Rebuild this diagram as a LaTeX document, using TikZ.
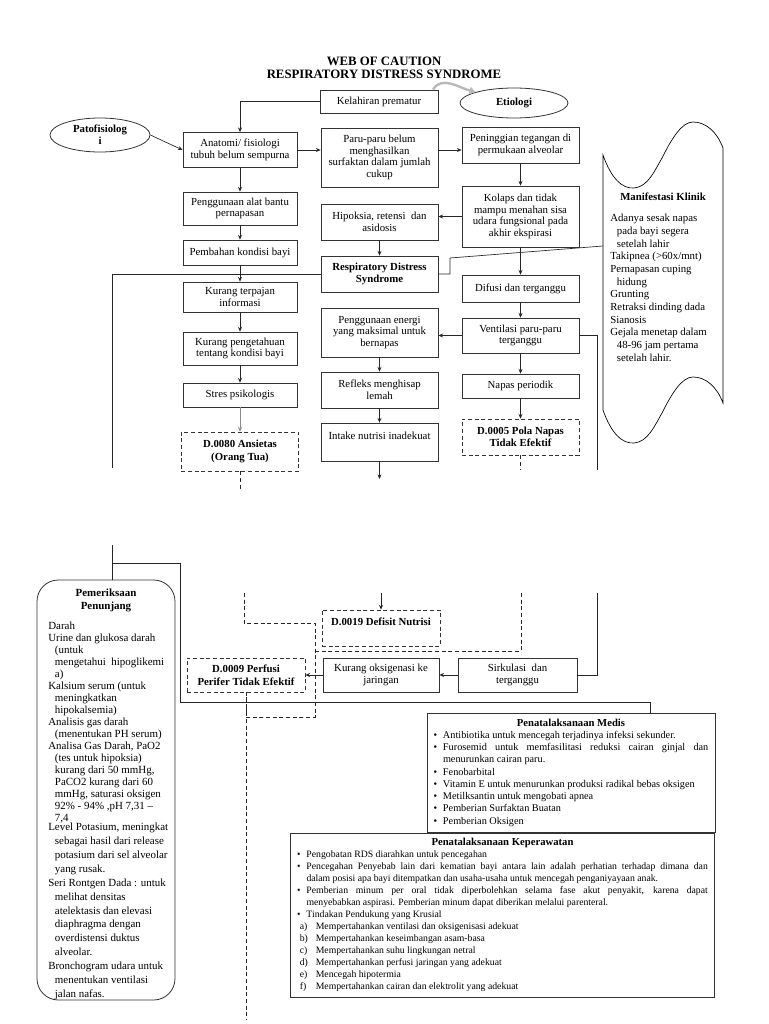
\documentclass[tikz,border=0pt]{standalone}
\usepackage{fontspec}
\setmainfont{Liberation Serif}
\usetikzlibrary{arrows.meta,shapes.geometric}
\newcommand{\bitm}{\par\hangindent=7pt\hangafter=1\noindent\makebox[7pt][l]{\textbullet}}
\newcommand{\subitm}[1]{\par\hangindent=16pt\hangafter=1\noindent\hspace*{2pt}\makebox[12pt][l]{#1}}
\begin{document}
\begin{tikzpicture}[x=0.75pt, y=-0.75pt,
pbox/.style={draw=black!80, line width=0.6pt, fill=white, align=center, inner sep=1pt, font=\fontsize{8.1}{8.8}\selectfont},
dpbox/.style={pbox, dash pattern=on 3pt off 2pt, font=\fontsize{8.1}{9.4}\selectfont\bfseries},
ebox/.style={draw=black!80, line width=0.6pt, fill=white, ellipse, inner sep=0pt, align=center, font=\fontsize{8.1}{9}\selectfont\bfseries},
lbox/.style={draw=black!80, line width=0.6pt, fill=white, align=justify, inner xsep=5pt, inner ysep=2pt},
ln/.style={draw=black!85, line width=0.5pt},
dln/.style={ln, dash pattern=on 3pt off 2pt},
arr/.style={-{Stealth[length=3.5pt,width=3pt]}}]
\useasboundingbox[fill=white] (0,0) rectangle (768,1024);
\node[font=\fontsize{9.6}{9.8}\selectfont\bfseries, align=center] (ttl) at (384,67.5) {WEB OF CAUTION\\RESPIRATORY DISTRESS SYNDROME};
\draw[fill=white, line width=0.5pt] (603,155) .. controls (611,178) and (622,189) .. (634,188) .. controls (648,187) and (655,170) .. (662,158) .. controls (672,138) and (682,122) .. (693,122) .. controls (706,122) and (717,132) .. (723,148) -- (723,403) .. controls (717,387) and (706,377) .. (693,377) .. controls (682,377) and (672,393) .. (662,413) .. controls (655,425) and (648,442) .. (634,443) .. controls (622,444) and (611,433) .. (603,410) -- cycle;
\node[font=\fontsize{8.1}{9.5}\selectfont\bfseries] (mkt) at (663,197) {Manifestasi Klinik};
\node[font=\fontsize{8.1}{9.5}\selectfont, align=left, anchor=north west, inner sep=0pt] (mkb) at (610,214) {Adanya sesak napas\\\hspace*{5pt}pada bayi segera\\\hspace*{5pt}setelah lahir\\Takipnea (>60x/mnt)\\Pernapasan cuping\\\hspace*{5pt}hidung\\Grunting\\Retraksi dinding dada\\Sianosis\\Gejala menetap dalam\\\hspace*{5pt}48-96 jam pertama\\\hspace*{5pt}setelah lahir.};
\coordinate (c3) at (603,246);
\node[pbox, minimum width=88.5pt, minimum height=17.25pt] (kel) at (379,101.5) {Kelahiran prematur};
\node[ebox, minimum width=81pt, minimum height=22.5pt] (eti) at (514,103) {Etiologi};
\draw[gray!55, line width=1.8pt, -{Triangle[length=4.5pt,width=5.5pt]}] ([xshift=-4pt]kel.north east) to[out=60, in=165] (eti.north west);
\node[ebox, minimum width=75pt, minimum height=25.5pt] (pato) at (100,135) {Patofisiolog\\i};
\node[pbox, minimum width=85.5pt, minimum height=26.25pt] (box1) at (240,150) {Anatomi/ fisiologi\\tubuh belum sempurna};
\draw[ln, arr] (kel.west) -| (box1.north);
\draw[ln, arr] (pato.east) -- (box1.west);
\node[pbox, minimum width=85.5pt, minimum height=24.75pt] (box2) at (240,208.5) {Penggunaan alat bantu\\pernapasan};
\draw[ln, arr] (box1.south) -- (box2.north);
\node[pbox, minimum width=85.5pt, minimum height=18.75pt] (box3) at (240,252.5) {Pembahan kondisi bayi};
\draw[ln, arr] (box2.south) -- (box3.north);
\node[pbox, minimum width=85.5pt, minimum height=22.5pt] (box4) at (240,297) {Kurang terpajan\\informasi};
\draw[ln, arr] (box3.south) -- (box4.north);
\node[pbox, minimum width=85.5pt, minimum height=24.75pt] (box5) at (240,348.5) {Kurang pengetahuan\\tentang kondisi bayi};
\draw[ln, arr] (box4.south) -- (box5.north);
\node[pbox, minimum width=85.5pt, minimum height=18pt] (box6) at (240,395) {Stres psikologis};
\draw[ln, arr] (box5.south) -- (box6.north);
\node[dpbox, minimum width=88pt, minimum height=29.25pt] (dx1) at (240,451.5) {D.0080 Ansietas\\(Orang Tua)};
\draw[ln, draw=black!45, arr] (box6.south) -- (dx1.north);
\coordinate (c5) at (240,490);
\draw[dln] (dx1.south) -- (c5);
\node[pbox, minimum width=87.75pt, minimum height=44.25pt] (box7) at (379.5,157.5) {Paru-paru belum\\menghasilkan\\surfaktan dalam jumlah\\cukup};
\draw[ln, arr] (box1.east) -- (box1.east -| box7.west);
\node[pbox, minimum width=87.75pt, minimum height=27pt] (box13) at (520.5,145) {Peninggian tegangan di\\permukaan alveolar};
\draw[ln, arr] (box1.east -| box7.east) -- (box1.east -| box13.west);
\node[pbox, minimum width=87.75pt, minimum height=45.75pt] (box14) at (520.5,216.5) {Kolaps dan tidak\\mampu menahan sisa\\udara fungsional pada\\akhir ekspirasi};
\draw[ln, arr] (box13.south) -- (box14.north);
\node[pbox, minimum width=87.75pt, minimum height=27pt] (box8) at (379.5,222) {Hipoksia, retensi\ \ dan\\asidosis};
\draw[ln, arr] (box14.west) -- (box14.west -| box8.east);
\node[pbox, minimum width=87.75pt, minimum height=27pt, font=\fontsize{8.1}{8.8}\selectfont\bfseries] (box9) at (379.5,274) {Respiratory Distress\\Syndrome};
\draw[ln, arr] (box8.south) -- (box9.north);
\coordinate (c1) at (112,468);
\draw[ln] (box9.west) -| (c1);
\coordinate (c2) at (450,258);
\draw[ln] (box9.east) -| (c2) -- (c3);
\node[pbox, minimum width=87.75pt, minimum height=20.25pt] (box15) at (520.5,288.5) {Difusi dan terganggu};
\draw[ln, arr] (box14.south) -- (box15.north);
\node[pbox, minimum width=87.75pt, minimum height=26.25pt] (box16) at (520.5,335.5) {Ventilasi paru-paru\\terganggu};
\draw[ln, arr] (box15.south) -- (box16.north);
\coordinate (c4) at (597,470);
\draw[ln] (box16.east) -| (c4);
\node[pbox, minimum width=87.75pt, minimum height=18pt] (box17) at (520.5,386) {Napas periodik};
\draw[ln, arr] (box16.south) -- (box17.north);
\node[dpbox, minimum width=87.75pt, minimum height=27pt] (dx2) at (520.5,437) {D.0005 Pola Napas\\Tidak Efektif};
\draw[ln, arr] (box17.south) -- (dx2.north);
\coordinate (c7) at (520.5,470);
\draw[dln] (dx2.south) -- (c7);
\node[pbox, minimum width=87.75pt, minimum height=36.75pt] (box10) at (379.5,332.5) {Penggunaan energi\\yang maksimal untuk\\bernapas};
\draw[ln, arr] (box16.west) -- (box16.west -| box10.east);
\node[pbox, minimum width=87.75pt, minimum height=27pt] (box11) at (379.5,390) {Refleks menghisap\\lemah};
\draw[ln, arr] (box10.south) -- (box11.north);
\node[pbox, minimum width=87.75pt, minimum height=28.5pt] (box12) at (379.5,442) {Intake nutrisi inadekuat\\\mbox{}};
\draw[ln, arr] (box11.south) -- (box12.north);
\coordinate (c6) at (379.5,479);
\draw[ln, arr] (box12.south) -- (c6);
\node[lbox, rounded corners=16pt, minimum width=103.5pt, minimum height=315pt] (pem) at (106,790) {};
\node[font=\fontsize{8.2}{9.75}\selectfont\bfseries, align=center] (pemt) at (106,600) {Pemeriksaan\\Penunjang};
\node[font=\fontsize{8.2}{9}\selectfont, align=left, anchor=north west, inner sep=0pt] (pemb1) at (48,622) {Darah\\Urine dan glukosa darah\\\hspace*{5pt}(untuk\\\hspace*{5pt}mengetahui\ \ hipoglikemi\\\hspace*{5pt}a)\\Kalsium serum (untuk\\\hspace*{5pt}meningkatkan\\\hspace*{5pt}hipokalsemia)\\Analisis gas darah\\\hspace*{5pt}(menentukan PH serum)\\Analisa Gas Darah, PaO2\\\hspace*{5pt}(tes untuk hipoksia)\\\hspace*{5pt}kurang dari 50 mmHg,\\\hspace*{5pt}PaCO2 kurang dari 60\\\hspace*{5pt}mmHg, saturasi oksigen\\\hspace*{5pt}92\% - 94\% ,pH 7,31 --\\\hspace*{5pt}7,4};
\node[font=\fontsize{8.2}{10.4}\selectfont, align=left, anchor=north west, inner sep=0pt] (pemb2) at (48,823) {Level Potasium, meningkat\\\hspace*{5pt}sebagai hasil dari release\\\hspace*{5pt}potasium dari sel alveolar\\\hspace*{5pt}yang rusak.\\Seri Rontgen Dada : untuk\\\hspace*{5pt}melihat densitas\\\hspace*{5pt}atelektasis dan elevasi\\\hspace*{5pt}diaphragma dengan\\\hspace*{5pt}overdistensi duktus\\\hspace*{5pt}alveolar.\\Bronchogram udara untuk\\\hspace*{5pt}menentukan ventilasi\\\hspace*{5pt}jalan nafas.};
\coordinate (c8) at (112,545);
\draw[ln] (c8) -- (c8 |- pem.north);
\node[dpbox, minimum width=88.5pt, minimum height=27pt] (dx3) at (381,628) {D.0019 Defisit Nutrisi\\\mbox{}};
\coordinate (c12) at (381,593);
\draw[ln, arr] (c12) -- (dx3.north);
\node[dpbox, minimum width=88.5pt, minimum height=25.5pt] (dx4) at (246,675) {D.0009 Perfusi\\Perifer Tidak Efektif};
\node[pbox, minimum width=87pt, minimum height=25.5pt] (box18) at (381,675) {Kurang oksigenasi ke\\jaringan};
\node[pbox, minimum width=89.25pt, minimum height=25.5pt] (box19) at (517.5,675) {Sirkulasi\ \ dan\\terganggu};
\coordinate (c13) at (597,593);
\draw[ln] (box19.east) -| (c13);
\draw[ln, arr] (box19.west) -- (box18.east);
\coordinate (c14) at (244,593);
\coordinate (c15) at (315,623);
\coordinate (c16) at (315,717);
\draw[dln] (c14) |- (c15) -- (c16) -| (dx4.south);
\coordinate (c17) at (521,593);
\coordinate (c18) at (315,651);
\draw[dln] (c17) |- (c18);
\coordinate (c19) at (246,1020);
\draw[dln] (dx4.south) -- (c19);
\draw[ln, arr] (box18.west) -- (dx4.east);
\node[lbox, text width=206pt, minimum height=89.25pt, font=\fontsize{7.7}{9.2}\selectfont] (med) at (571,772.5) {\noindent\makebox[\linewidth]{\fontsize{8}{9.2}\selectfont\bfseries Penatalaksanaan Medis}
\bitm Antibiotika untuk mencegah terjadinya infeksi sekunder.
\bitm Furosemid untuk memfasilitasi reduksi cairan ginjal dan\linebreak menurunkan cairan paru.
\bitm Fenobarbital
\bitm Vitamin E untuk menurunkan produksi radikal bebas oksigen
\bitm Metilksantin untuk mengobati apnea
\bitm Pemberian Surfaktan Buatan
\bitm Pemberian Oksigen};
\coordinate (c9) at (112,563);
\coordinate (c10) at (180,702);
\coordinate (c11) at (650,702);
\draw[ln] (c9) -| (c10) -- (c11) -- (c11 |- med.north);
\node[lbox, text width=308pt, minimum height=123pt, font=\fontsize{7.3}{9}\selectfont] (kep) at (502.5,915) {\noindent\makebox[\linewidth]{\fontsize{8}{9.5}\selectfont\bfseries Penatalaksanaan Keperawatan}
\bitm Pengobatan RDS diarahkan untuk pencegahan
\bitm Pencegahan Penyebab lain dari kematian bayi antara lain adalah perhatian terhadap dimana dan\linebreak dalam posisi apa bayi ditempatkan dan usaha-usaha untuk mencegah penganiyayaan anak.
\bitm Pemberian minum per oral tidak diperbolehkan selama fase akut penyakit, karena dapat\linebreak menyebabkan aspirasi. Pemberian minum dapat diberikan melalui parenteral.
\bitm Tindakan Pendukung yang Krusial
\subitm{a)}Mempertahankan ventilasi dan oksigenisasi adekuat
\subitm{b)}Mempertahankan keseimbangan asam-basa
\subitm{c)}Mempertahankan suhu lingkungan netral
\subitm{d)}Mempertahankan perfusi jaringan yang adekuat
\subitm{e)}Mencegah hipotermia
\subitm{f)}Mempertahankan cairan dan elektrolit yang adekuat};
\end{tikzpicture}
\end{document}
